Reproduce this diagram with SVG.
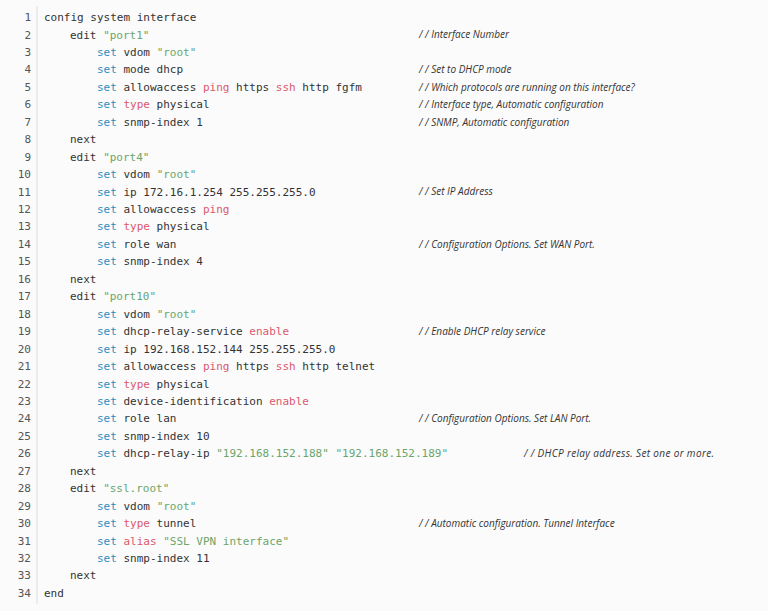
<svg xmlns="http://www.w3.org/2000/svg" width="768" height="611" viewBox="0 0 768 611">
<style>
.c{font-family:"DejaVu Sans Mono","Liberation Mono",monospace;font-size:11px;fill:#333}
.n{font-family:"DejaVu Sans Mono",monospace;font-size:11px;fill:#555;text-anchor:end}
.k{fill:#2a8fc0}.s{fill:#6aa56a}.r{fill:#d9596c}
.m{font-family:"Open Sans","Noto Sans",sans-serif;font-size:10px;font-style:italic;fill:#333}
</style>
<rect width="768" height="611" fill="#fbfbfb"/>
<line x1="37" y1="6" x2="37" y2="604" stroke="#ddd" stroke-width="1"/>
<g id="nums">
<text class="n" x="31" y="21">1</text><text class="n" x="31" y="38.5">2</text><text class="n" x="31" y="56">3</text><text class="n" x="31" y="73.4">4</text><text class="n" x="31" y="90.9">5</text><text class="n" x="31" y="108.3">6</text><text class="n" x="31" y="125.7">7</text><text class="n" x="31" y="143.2">8</text><text class="n" x="31" y="160.6">9</text><text class="n" x="31" y="178.1">10</text><text class="n" x="31" y="195.5">11</text><text class="n" x="31" y="213">12</text><text class="n" x="31" y="230.4">13</text><text class="n" x="31" y="247.9">14</text><text class="n" x="31" y="265.3">15</text><text class="n" x="31" y="282.8">16</text><text class="n" x="31" y="300.2">17</text><text class="n" x="31" y="317.7">18</text><text class="n" x="31" y="335.1">19</text><text class="n" x="31" y="352.6">20</text><text class="n" x="31" y="370">21</text><text class="n" x="31" y="387.5">22</text><text class="n" x="31" y="404.9">23</text><text class="n" x="31" y="422.4">24</text><text class="n" x="31" y="439.8">25</text><text class="n" x="31" y="457.3">26</text><text class="n" x="31" y="474.7">27</text><text class="n" x="31" y="492.2">28</text><text class="n" x="31" y="509.6">29</text><text class="n" x="31" y="527.1">30</text><text class="n" x="31" y="544.5">31</text><text class="n" x="31" y="562">32</text><text class="n" x="31" y="579.4">33</text><text class="n" x="31" y="596.9">34</text>
</g>
<g id="code">
<text class="c" x="44" y="21">config system interface</text>
<text class="c" x="70" y="38.5">edit <tspan class="s">"port1"</tspan></text>
<text class="c" x="97" y="56"><tspan class="k">set</tspan> vdom <tspan class="s">"root"</tspan></text>
<text class="c" x="97" y="73.4"><tspan class="k">set</tspan> mode dhcp</text>
<text class="c" x="97" y="90.9"><tspan class="k">set</tspan> allowaccess <tspan class="r">ping</tspan> https <tspan class="r">ssh</tspan> http fgfm</text>
<text class="c" x="97" y="108.3"><tspan class="k">set</tspan> <tspan class="r">type</tspan> physical</text>
<text class="c" x="97" y="125.7"><tspan class="k">set</tspan> snmp-index 1</text>
<text class="c" x="70" y="143.2">next</text>
<text class="c" x="70" y="160.6">edit <tspan class="s">"port4"</tspan></text>
<text class="c" x="97" y="178.1"><tspan class="k">set</tspan> vdom <tspan class="s">"root"</tspan></text>
<text class="c" x="97" y="195.5"><tspan class="k">set</tspan> ip 172.16.1.254 255.255.255.0</text>
<text class="c" x="97" y="213"><tspan class="k">set</tspan> allowaccess <tspan class="r">ping</tspan></text>
<text class="c" x="97" y="230.4"><tspan class="k">set</tspan> <tspan class="r">type</tspan> physical</text>
<text class="c" x="97" y="247.9"><tspan class="k">set</tspan> role wan</text>
<text class="c" x="97" y="265.3"><tspan class="k">set</tspan> snmp-index 4</text>
<text class="c" x="70" y="282.8">next</text>
<text class="c" x="70" y="300.2">edit <tspan class="s">"port10"</tspan></text>
<text class="c" x="97" y="317.7"><tspan class="k">set</tspan> vdom <tspan class="s">"root"</tspan></text>
<text class="c" x="97" y="335.1"><tspan class="k">set</tspan> dhcp-relay-service <tspan class="r">enable</tspan></text>
<text class="c" x="97" y="352.6"><tspan class="k">set</tspan> ip 192.168.152.144 255.255.255.0</text>
<text class="c" x="97" y="370"><tspan class="k">set</tspan> allowaccess <tspan class="r">ping</tspan> https <tspan class="r">ssh</tspan> http telnet</text>
<text class="c" x="97" y="387.5"><tspan class="k">set</tspan> <tspan class="r">type</tspan> physical</text>
<text class="c" x="97" y="404.9"><tspan class="k">set</tspan> device-identification <tspan class="r">enable</tspan></text>
<text class="c" x="97" y="422.4"><tspan class="k">set</tspan> role lan</text>
<text class="c" x="97" y="439.8"><tspan class="k">set</tspan> snmp-index 10</text>
<text class="c" x="97" y="457.3"><tspan class="k">set</tspan> dhcp-relay-ip <tspan class="s">"192.168.152.188" "192.168.152.189"</tspan></text>
<text class="c" x="70" y="474.7">next</text>
<text class="c" x="70" y="492.2">edit <tspan class="s">"ssl.root"</tspan></text>
<text class="c" x="97" y="509.6"><tspan class="k">set</tspan> vdom <tspan class="s">"root"</tspan></text>
<text class="c" x="97" y="527.1"><tspan class="k">set</tspan> <tspan class="r">type</tspan> tunnel</text>
<text class="c" x="97" y="544.5"><tspan class="k">set</tspan> <tspan class="r">alias</tspan> <tspan class="s">"SSL VPN interface"</tspan></text>
<text class="c" x="97" y="562"><tspan class="k">set</tspan> snmp-index 11</text>
<text class="c" x="70" y="579.4">next</text>
<text class="c" x="44" y="596.9">end</text>
</g>
<g id="comments">
<text class="m" x="419" y="38">/ /  Interface Number</text>
<text class="m" x="419" y="73">/ / Set to DHCP mode</text>
<text class="m" x="419" y="90.5">/ / Which protocols are running on this interface?</text>
<text class="m" x="419" y="108">/ /  Interface type, Automatic configuration</text>
<text class="m" x="419" y="125.5">/ /  SNMP, Automatic configuration</text>
<text class="m" x="419" y="195">/ /  Set IP Address</text>
<text class="m" x="419" y="247.5">/ / Configuration Options. Set WAN Port.</text>
<text class="m" x="419" y="335">/ /  Enable DHCP relay service</text>
<text class="m" x="419" y="422">/ / Configuration Options. Set LAN Port.</text>
<text class="m" x="524" y="457" textLength="190">/ / DHCP relay address. Set one or more.</text>
<text class="m" x="419" y="527">/ / Automatic configuration. Tunnel Interface</text>
</g>
</svg>
